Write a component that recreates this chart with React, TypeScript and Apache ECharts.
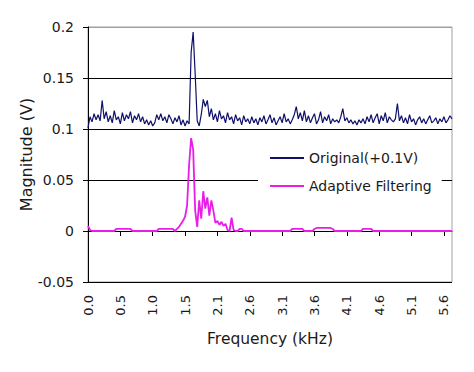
import React, { useEffect, useRef } from "react";
import * as echarts from "echarts";

// Tick labels of the frequency axis (kHz), one every POINTS_PER_TICK samples
const TICK_LABELS = ["0.0", "0.5", "1.0", "1.5", "2.1", "2.6", "3.1", "3.6", "4.1", "4.6", "5.1", "5.6"];
const POINTS_PER_TICK = 16;

// Original spectrum is plotted shifted up by this offset (V)
const ORIGINAL_OFFSET = 0.1;

// Original magnitude in mV (before the +0.1 V shift), 181 samples
const ORIGINAL_MV = [
  1, 12, 7, 15, 9, 14, 8, 28, 10, 17, 7,
  13, 6, 18, 9, 12, 5, 16, 8, 14, 10, 17, 6, 13, 9, 15,
  7, 12, 5, 9, 4, 8, 3, 6, 14, 9,
  15, 8, 12, 6, 14, 10, 5, 11, 7, 13, 4, 9, 3, 8, 5,
  75, 95, 54, 8, 3, 14, 29, 22, 28, 12, 20, 9,
  15, 7, 18, 10, 13, 6, 16, 9, 12, 5, 14, 8, 11, 4, 13, 7, 10, 5,
  12, 6, 10, 4, 11, 7, 13, 5, 9, 14, 6, 11, 4, 8, 12, 6, 15, 7, 10, 5,
  9, 14, 22, 10, 16, 8, 18, 7, 13, 6,
  11, 15, 5, 9, 17, 6, 12, 8, 14, 5, 10, 7, 9, 6, 12,
  20, 8, 11, 6, 9, 5, 8, 4, 9, 6,
  10, 5, 12, 7, 14, 6, 11, 15, 5, 13, 8, 16, 6, 12, 9,
  7, 10, 25, 8, 13, 6, 11, 5, 14, 7, 10, 4, 9, 12, 6,
  10, 5, 9, 13, 6, 8, 11, 5, 10, 7, 12, 6, 9, 13, 10,
];

// Adaptive filtering output in mV, 181 samples
const FILTERED_MV = [
  5, 1, 0, 0, 0, 0, 0, 0, 0, 0, 0, 0, 0, 0,
  2, 2, 2, 2, 2, 2, 2, 2,
  0, 0, 0, 0, 0, 0, 0, 0, 0, 0, 0, 0, 0,
  2, 2, 2, 2, 2, 2, 2, 2,
  0, 2, 4, 7, 10, 14, 25, 65, 91, 80, 20, 4, 30, 12, 39, 22, 33, 15, 30, 20,
  8, 10, 6, 9, 5, 7, 1, 0, 13, 1, 0, 0, 2, 2,
  0, 0, 0, 0, 0, 0, 0, 0, 0, 0, 0, 0, 0, 0, 0, 0, 0, 0, 0, 0, 0, 0, 0, 0,
  2, 2, 2, 2, 2, 2,
  0, 0, 0, 0, 0,
  2, 3, 3, 3, 3, 3, 3, 3, 3, 2,
  0, 0, 0, 0, 0, 0, 0, 0, 0, 0, 0, 0, 0, 0,
  2, 2, 2, 2, 2,
  0, 0, 0, 0, 0, 0, 0, 0, 0, 0, 0, 0, 0, 0, 0, 0, 0, 0, 0, 0,
  0, 0, 0, 0, 0, 0, 0, 0, 0, 0, 0, 0, 0, 0, 0, 0, 0, 0, 0, 0,
];

const SERIES_NAMES = ["Original(+0.1V)", "Adaptive Filtering"];

const FONT = "'DejaVu Sans', Verdana, sans-serif";
const TEXT_COLOR = "#1a1a1a";

export default function App() {
  const ref = useRef<HTMLDivElement>(null);

  useEffect(() => {
    if (!ref.current) return;
    const chart = echarts.init(ref.current, null, { renderer: "svg" });

    const categories = ORIGINAL_MV.map((_, i) =>
      i % POINTS_PER_TICK === 0 && TICK_LABELS[i / POINTS_PER_TICK] !== undefined
        ? TICK_LABELS[i / POINTS_PER_TICK]
        : ""
    );
    const original = ORIGINAL_MV.map((v) => +(ORIGINAL_OFFSET + v / 1000).toFixed(4));
    const filtered = FILTERED_MV.map((v) => v / 1000);

    chart.setOption({
      animation: false,
      backgroundColor: "#fff",
      textStyle: { fontFamily: FONT },
      grid: {
        left: 88,
        right: 22,
        top: 27,
        bottom: 90,
        show: true,
        borderColor: "#a0a0a0",
        borderWidth: 1,
        backgroundColor: "transparent",
      },
      legend: {
        orient: "vertical",
        left: 258,
        top: 144,
        padding: [7, 10, 7, 12],
        backgroundColor: "#fff",
        itemWidth: 34,
        itemHeight: 2,
        itemGap: 14,
        icon: "rect",
        textStyle: { fontSize: 14, color: TEXT_COLOR, fontFamily: FONT },
        data: SERIES_NAMES,
      },
      xAxis: {
        type: "category",
        data: categories,
        boundaryGap: false,
        name: "Frequency (kHz)",
        nameLocation: "middle",
        nameGap: 49,
        nameMoveOverlap: false,
        nameTextStyle: { fontSize: 15.5, color: TEXT_COLOR, fontFamily: FONT },
        axisLine: { lineStyle: { color: "#000", width: 1 } },
        axisTick: { show: true, interval: POINTS_PER_TICK - 1, length: 5, lineStyle: { color: "#000" } },
        axisLabel: {
          interval: POINTS_PER_TICK - 1,
          rotate: 90,
          margin: 13,
          fontSize: 13,
          color: TEXT_COLOR,
          fontFamily: FONT,
        },
        splitLine: { show: false },
      },
      yAxis: {
        type: "value",
        min: -0.05,
        max: 0.2,
        interval: 0.05,
        name: "Magnitude (V)",
        nameLocation: "middle",
        nameGap: 54,
        nameMoveOverlap: false,
        nameTextStyle: { fontSize: 16, color: TEXT_COLOR, fontFamily: FONT },
        axisLine: { show: true, lineStyle: { color: "#000", width: 1 } },
        axisTick: { show: true, length: 5, lineStyle: { color: "#000" } },
        axisLabel: {
          margin: 14,
          fontSize: 14,
          color: TEXT_COLOR,
          fontFamily: FONT,
        },
        splitLine: {
          show: true,
          lineStyle: { color: ["#000", "#000", "#000", "#000", "#000", "#a0a0a0"], width: 1 },
        },
      },
      series: [
        {
          name: SERIES_NAMES[0],
          type: "line",
          data: original,
          symbol: "none",
          showSymbol: false,
          color: "#10106a",
          lineStyle: { width: 1.2, color: "#10106a" },
          z: 3,
        },
        {
          name: SERIES_NAMES[1],
          type: "line",
          data: filtered,
          symbol: "none",
          showSymbol: false,
          color: "#e81ee8",
          lineStyle: { width: 1.8, color: "#e81ee8" },
          z: 4,
        },
      ],
    });

    return () => chart.dispose();
  }, []);

  return (
    <div
      ref={ref}
      style={{ position: "fixed", left: 0, top: 0, width: 474, height: 372 }}
    />
  );
}
